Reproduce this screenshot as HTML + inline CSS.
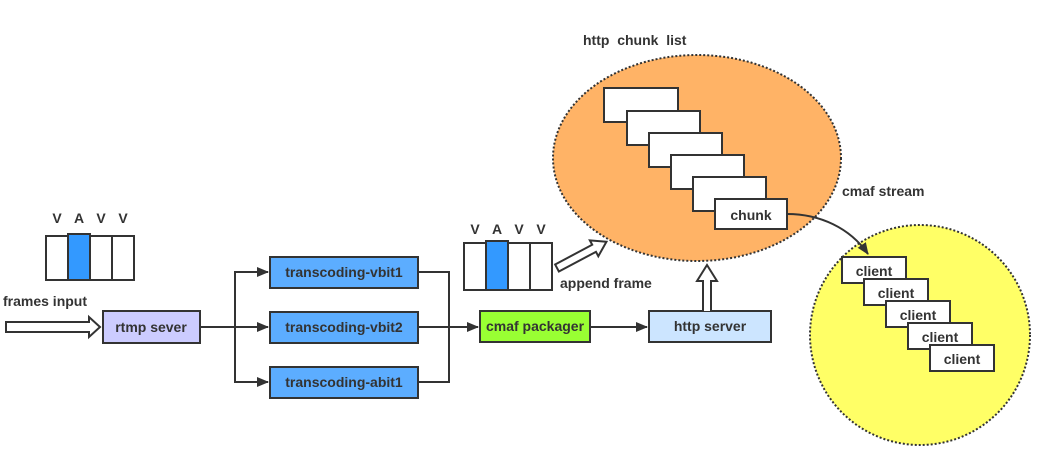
<!DOCTYPE html>
<html><head><meta charset="utf-8"><style>
html,body{margin:0;padding:0;background:#fff;}
svg text{font-family:"Liberation Sans","DejaVu Sans",sans-serif;font-weight:bold;fill:#333;}
</style></head><body>
<svg width="1047" height="463" viewBox="0 0 1047 463" xmlns="http://www.w3.org/2000/svg">
<defs>
<marker id="ah" markerWidth="12" markerHeight="10" refX="11" refY="5" orient="auto" markerUnits="userSpaceOnUse">
<path d="M0,0 L12,5 L0,10 Z" fill="#333"/></marker>
</defs>
<g stroke="#333" stroke-width="2">
<ellipse cx="697" cy="158" rx="144" ry="103" fill="#ffb366" stroke-dasharray="2,2"/>
<ellipse cx="920" cy="335" rx="110" ry="110" fill="#ffff66" stroke-dasharray="2,2"/>
<rect x="604" y="88" width="74" height="34" fill="#fff"/>
<rect x="627" y="111" width="73" height="34" fill="#fff"/>
<rect x="649" y="133" width="73" height="34" fill="#fff"/>
<rect x="671" y="155" width="73" height="34" fill="#fff"/>
<rect x="693" y="177" width="73" height="34" fill="#fff"/>
<rect x="715" y="199" width="72" height="30" fill="#fff"/>
<rect x="842" y="257" width="64" height="26" fill="#fff"/>
<rect x="864" y="279" width="64" height="26" fill="#fff"/>
<rect x="886" y="301" width="64" height="26" fill="#fff"/>
<rect x="908" y="323" width="64" height="26" fill="#fff"/>
<rect x="930" y="345" width="64" height="26" fill="#fff"/>
<path d="M787,214 C820,214 850,228 868,254" fill="none" marker-end="url(#ah)"/>
<rect x="46" y="236" width="22" height="44" fill="#fff"/>
<rect x="68" y="234" width="22" height="46" fill="#3399ff"/>
<rect x="90" y="236" width="22" height="44" fill="#fff"/>
<rect x="112" y="236" width="22" height="44" fill="#fff"/>
<rect x="464" y="243" width="22" height="47" fill="#fff"/>
<rect x="486" y="241" width="22" height="49" fill="#3399ff"/>
<rect x="508" y="243" width="22" height="47" fill="#fff"/>
<rect x="530" y="243" width="22" height="47" fill="#fff"/>
<path d="M6,322 L89,322 L89,317 L100,327 L89,337 L89,332 L6,332 Z" fill="#fff"/>
<rect x="103" y="311" width="97" height="32" fill="#ccccff"/>
<rect x="270" y="257" width="148" height="31" fill="#5cadff"/>
<rect x="270" y="312" width="148" height="31" fill="#5cadff"/>
<rect x="270" y="367" width="148" height="31" fill="#5cadff"/>
<rect x="480" y="311" width="110" height="31" fill="#99ff33"/>
<rect x="649" y="311" width="122" height="31" fill="#cce5ff"/>
<path d="M200,327 L235,327" fill="none"/>
<path d="M268,272 L235,272 L235,382 L268,382" fill="none"/>
<path d="M235,272 L268,272" marker-end="url(#ah)"/>
<path d="M235,327 L268,327" marker-end="url(#ah)"/>
<path d="M235,382 L268,382" marker-end="url(#ah)"/>
<path d="M418,272 L449,272 L449,382 L418,382" fill="none"/>
<path d="M418,327 L478,327" marker-end="url(#ah)"/>
<path d="M590,327 L647,327" marker-end="url(#ah)"/>
<path d="M703,311 L703,281 L697,281 L707,265 L717,281 L711,281 L711,311" fill="#fff"/>
<g transform="translate(557,268) rotate(-28)">
<path d="M0,-4 L42,-4 L42,-9 L56,0 L42,9 L42,4 L0,4 Z" fill="#fff"/>
</g>
</g>
<g font-size="14">
<text x="583" y="45">http&#160; chunk&#160; list</text>
<text x="842" y="196">cmaf stream</text>
<text x="751" y="220" text-anchor="middle" font-weight="normal">chunk</text>
<text x="874" y="276" text-anchor="middle" font-weight="normal">client</text>
<text x="896" y="298" text-anchor="middle" font-weight="normal">client</text>
<text x="918" y="320" text-anchor="middle" font-weight="normal">client</text>
<text x="940" y="342" text-anchor="middle" font-weight="normal">client</text>
<text x="962" y="364" text-anchor="middle" font-weight="normal">client</text>
<text x="57" y="223" text-anchor="middle">V</text>
<text x="79" y="223" text-anchor="middle">A</text>
<text x="101" y="223" text-anchor="middle">V</text>
<text x="123" y="223" text-anchor="middle">V</text>
<text x="475" y="234" text-anchor="middle">V</text>
<text x="497" y="234" text-anchor="middle">A</text>
<text x="519" y="234" text-anchor="middle">V</text>
<text x="541" y="234" text-anchor="middle">V</text>
<text x="3" y="306">frames input</text>
<text x="560" y="288">append frame</text>
<text x="151" y="332" text-anchor="middle">rtmp sever</text>
<text x="344" y="277" text-anchor="middle">transcoding-vbit1</text>
<text x="344" y="332" text-anchor="middle">transcoding-vbit2</text>
<text x="344" y="387" text-anchor="middle">transcoding-abit1</text>
<text x="535" y="331" text-anchor="middle">cmaf packager</text>
<text x="710" y="331" text-anchor="middle">http server</text>
</g>
</svg>
</body></html>
